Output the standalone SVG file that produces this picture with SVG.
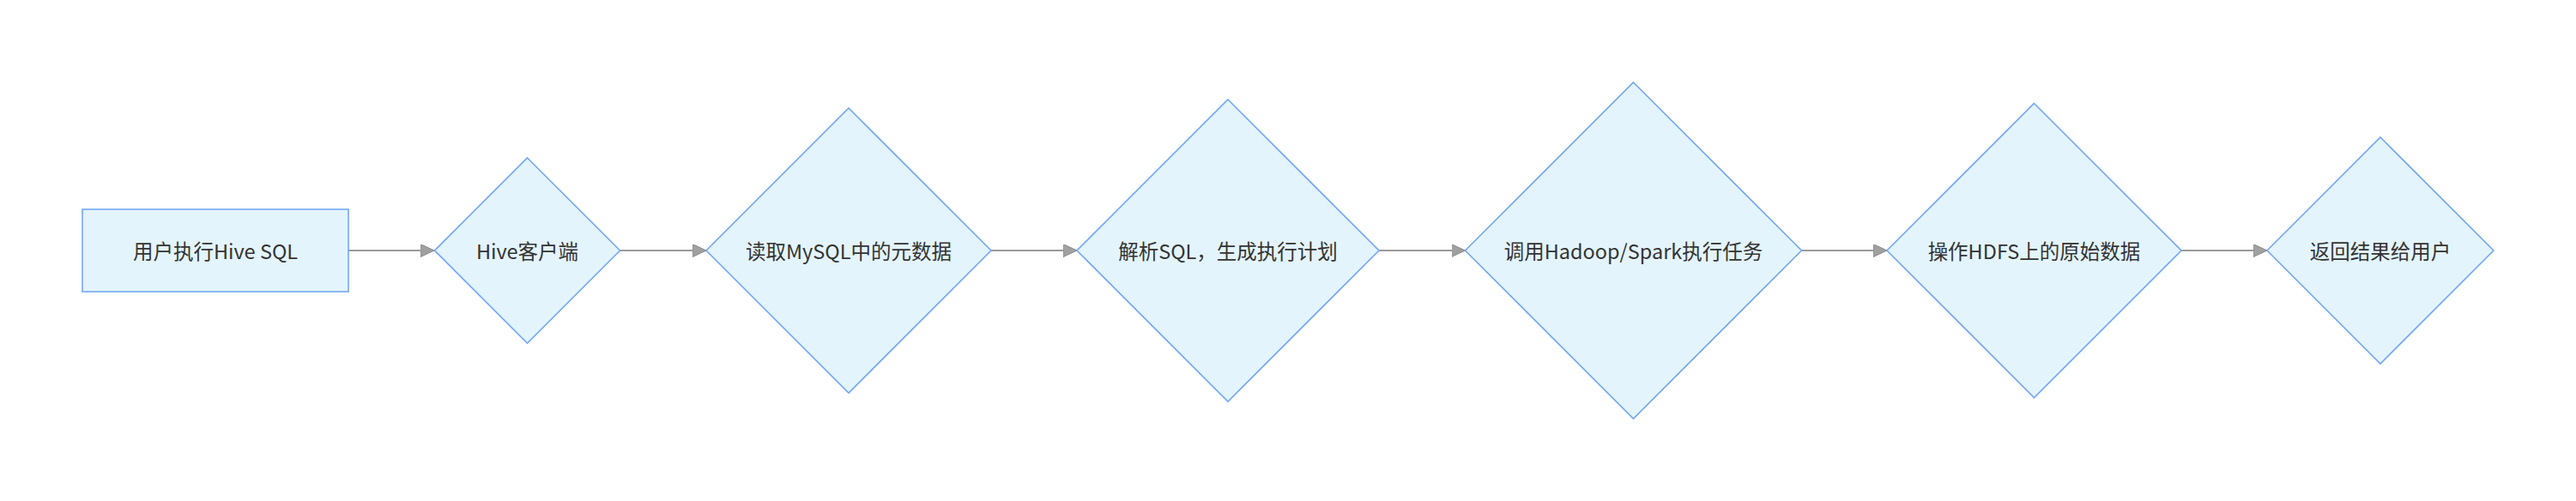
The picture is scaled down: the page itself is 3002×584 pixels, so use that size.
<svg xmlns="http://www.w3.org/2000/svg" width="3002" height="584" viewBox="0 0 3002 584">
<style>
.node{fill:#e3f4fd;stroke:#74a7f6;stroke-width:1.6}
.lbl{font-family:"Noto Sans CJK SC","Noto Sans",sans-serif;font-size:23.5px;fill:#333;text-anchor:middle;dominant-baseline:central}
.edge{stroke:#9a9a9a;stroke-width:2;fill:none}
</style>
<defs>
<marker id="arr" viewBox="0 0 16 15" refX="16" refY="7.5" markerUnits="userSpaceOnUse" markerWidth="16" markerHeight="15" orient="auto">
<path d="M0,0 L16,7.5 L0,15 z" fill="#a0a0a0" stroke="#8a8a8a" stroke-width="1"/>
</marker>
</defs>
<rect width="3002" height="584" fill="#ffffff"/>
<g id="connectors">
<line class="edge" x1="406" y1="292" x2="506" y2="292" marker-end="url(#arr)"/>
<line class="edge" x1="722.5" y1="292" x2="823" y2="292" marker-end="url(#arr)"/>
<line class="edge" x1="1155" y1="292" x2="1255" y2="292" marker-end="url(#arr)"/>
<line class="edge" x1="1607" y1="292" x2="1707.5" y2="292" marker-end="url(#arr)"/>
<line class="edge" x1="2099.5" y1="292" x2="2199" y2="292" marker-end="url(#arr)"/>
<line class="edge" x1="2542" y1="292" x2="2642" y2="292" marker-end="url(#arr)"/>
</g>
<g id="n0">
<rect class="node" x="96" y="244" width="310" height="96"/>
<text class="lbl" x="251" y="292">用户执行Hive SQL</text>
</g>
<g id="n1">
<polygon class="node" points="614.5,184 722.5,292 614.5,400 506.5,292"/>
<text class="lbl" x="614.5" y="292">Hive客户端</text>
</g>
<g id="n2">
<polygon class="node" points="989,126 1155,292 989,458 823,292"/>
<text class="lbl" x="989" y="292">读取MySQL中的元数据</text>
</g>
<g id="n3">
<polygon class="node" points="1431,116 1607,292 1431,468 1255,292"/>
<text class="lbl" x="1431" y="292">解析SQL，生成执行计划</text>
</g>
<g id="n4">
<polygon class="node" points="1903.5,96 2099.5,292 1903.5,488 1707.5,292"/>
<text class="lbl" x="1903.5" y="292">调用Hadoop/Spark执行任务</text>
</g>
<g id="n5">
<polygon class="node" points="2370.5,120.5 2542,292 2370.5,463.5 2199,292"/>
<text class="lbl" x="2370.5" y="292">操作HDFS上的原始数据</text>
</g>
<g id="n6">
<polygon class="node" points="2774,160 2906,292 2774,424 2642,292"/>
<text class="lbl" x="2774" y="292">返回结果给用户</text>
</g>
</svg>
